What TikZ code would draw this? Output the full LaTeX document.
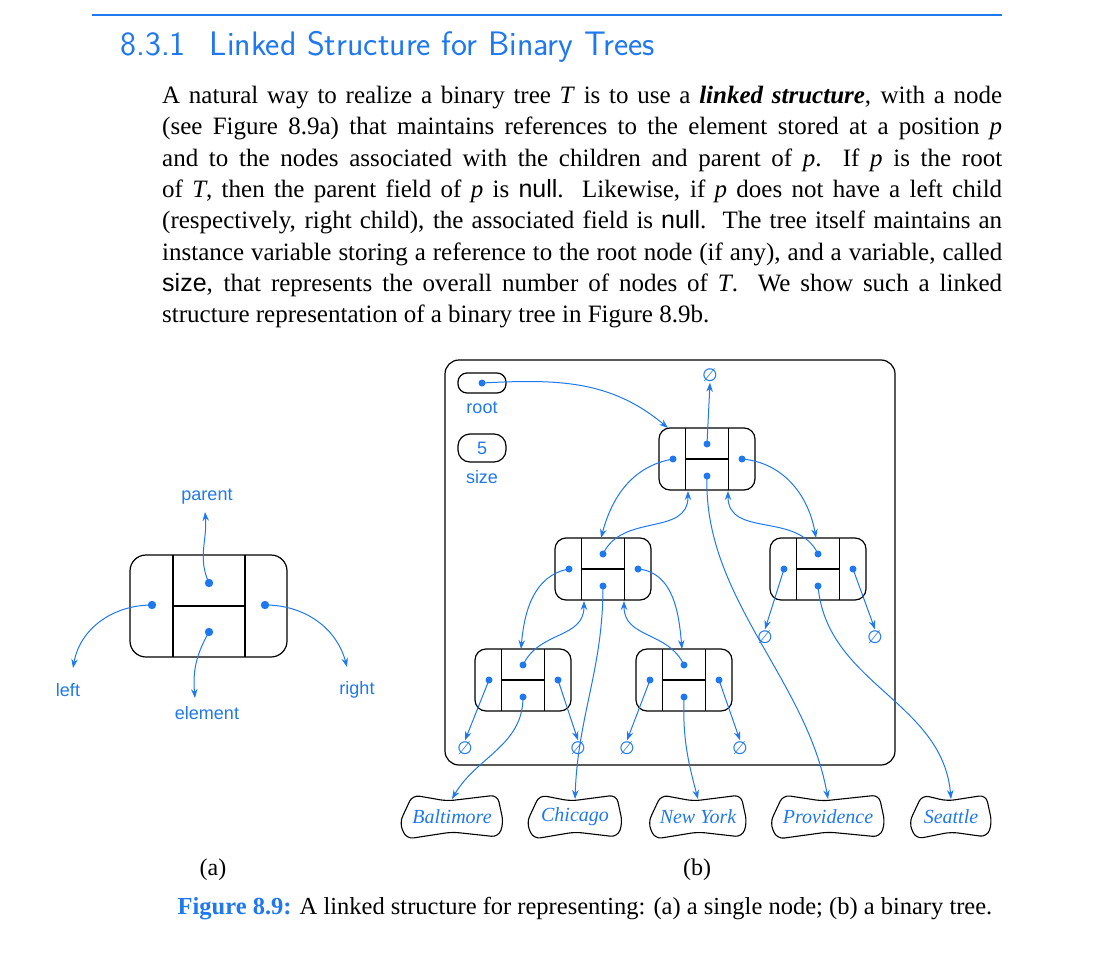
\documentclass[tikz,border=0pt]{standalone}
\usepackage{fontspec}
\setmainfont{Liberation Serif}
\newfontfamily\lsans{Liberation Sans}
\newfontfamily\djv{DejaVu Sans}
\usetikzlibrary{arrows.meta}
\definecolor{lb}{RGB}{30,120,240}
\tikzset{
 x=1pt,y=1pt,
 arr/.style={draw=lb,line width=1pt,-{Stealth[length=9pt,width=6.5pt]}},
 lbl/.style={text=lb,font=\lsans\fontsize{18}{20}\selectfont,inner sep=0pt},
 nul/.style={text=lb,font=\djv\fontsize{18}{20}\selectfont,inner sep=1pt},
 btxt/.style={text=lb,font=\itshape\fontsize{20}{22}\selectfont,inner sep=0pt},
 box/.style={draw,line width=1.2pt},
}
\newcommand\tnode[3]{% name, x, y
 \begin{scope}[shift={(#2,#3)}]
 \draw[box,rounded corners=11] (-48,-31) rectangle (48,31);
 \draw[box] (-21.5,-31) -- (-21.5,31) (21.5,-31) -- (21.5,31) (-21.5,0) -- (21.5,0);
 \coordinate (#1) at (0,0);
 \coordinate (#1-l) at (-34,0); \coordinate (#1-r) at (35,0);
 \coordinate (#1-t) at (0,15); \coordinate (#1-b) at (0,-17);
 \coordinate (#1-n) at (-2,31); \coordinate (#1-bl) at (-19,-32); \coordinate (#1-br) at (21,-32);
 \coordinate (#1-tl) at (-39,31);
 \foreach \p in {l,r,t,b} \fill[lb] (#1-\p) circle (3.5);
 \end{scope}}
\newcommand\blob[5]{% name,x,y,w,text
 \node[btxt] (#1) at (#2,#3) {#5};
 \begin{scope}[shift={(#2,#3)}]
 \draw[line width=1.1pt,rounded corners=7] ({-#4/2+10},22) -- ({-0.05*#4},16) -- ({#4/2-4},22) -- ({#4/2+2},-6) -- ({#4/2-3},-20) -- (0,-15) -- ({-#4/2+4},-22) -- ({-#4/2-3},-6) -- cycle;
 \coordinate (#1-t) at (0,18);
 \end{scope}}
\begin{document}
\begin{tikzpicture}
\useasboundingbox (0,0) rectangle (1099,-976);
% header
\draw[lb,line width=2.5pt] (92,-15) -- (1002,-15);
\node[anchor=base west,text=lb,font=\sffamily\fontsize{34}{36}\selectfont,inner sep=0pt] (hd) at (120,-56) {8.3.1\hspace{24pt}Linked Structure for Binary Trees};
\node[anchor=north west,inner sep=0pt,text width=840pt,align=justify,font=\fontsize{25}{31.3}\selectfont] (par) at (162,-86) {A natural way to realize a binary tree \textit{T} is to use a \textbf{\textit{linked structure}}, with a node\linebreak
(see Figure 8.9a) that maintains references to the element stored at a position \textit{p}\linebreak
and to the nodes associated with the children and parent of \textit{p}.\ \ If \textit{p} is the root\linebreak
of \textit{T}, then the parent field of \textit{p} is {\lsans null}.\ \ Likewise, if \textit{p} does not have a left child\linebreak
(respectively, right child), the associated field is {\lsans null}.\ \ The tree itself maintains an\linebreak
instance variable storing a reference to the root node (if any), and a variable, called\linebreak
{\lsans size}, that represents the overall number of nodes of \textit{T}.\ \ We show such a linked\linebreak
structure representation of a binary tree in Figure 8.9b.};
% (a)
\begin{scope}[shift={(208,-606)}]
\draw[box,rounded corners=16] (-78,-51) rectangle (79,51);
\draw[box] (-35,-51) -- (-35,51) (37,-51) -- (37,51) (-35,0) -- (37,0);
\coordinate (al) at (-56,1); \coordinate (ar) at (57,1);
\coordinate (at) at (1,23); \coordinate (ab) at (1,-26);
\foreach \p in {al,ar,at,ab} \fill[lb] (\p) circle (4.2);
\end{scope}
\node[lbl] (lleft) at (68,-690) {left};
\node[lbl] (lpar) at (207,-497) {parent};
\node[lbl] (lel) at (207,-713) {element};
\node[lbl] (lright) at (357,-690) {right};
\draw[arr] (al) to[out=180,in=80] (73,-668);
\draw[arr] (at) to[out=115,in=-85] (205,-512);
\draw[arr] (ab) to[out=-120,in=95] (195,-698);
\draw[arr] (ar) to[out=0,in=105] (347,-667);
\node[font=\fontsize{24}{26}\selectfont,inner sep=0pt] (capa) at (213,-870) {(a)};
% (b)
\draw[box,rounded corners=14] (445,-360) rectangle (895,-765);
\draw[line width=1.2pt,rounded corners=9] (458,-373) rectangle (506,-393);
\fill[lb] (482,-383) circle (3.5) coordinate (rootd);
\node[lbl] (rootl) at (482,-408) {root};
\node[draw,line width=1.2pt,rounded corners=12,minimum width=48pt,minimum height=28pt,text=lb,font=\lsans\fontsize{18}{20}\selectfont,inner sep=0pt] (sz) at (482,-448) {5};
\node[lbl] (szl) at (482,-477) {size};
\tnode{A}{707}{-459}
\tnode{B}{603}{-569}
\tnode{C}{818}{-569}
\tnode{D}{523}{-680}
\tnode{E}{684}{-680}
\node[nul] (n0) at (710,-375) {∅};
\node[nul] (n1) at (765,-637) {∅};
\node[nul] (n2) at (875,-637) {∅};
\node[nul] (n3) at (465,-748) {∅};
\node[nul] (n4) at (578,-748) {∅};
\node[nul] (n5) at (627,-748) {∅};
\node[nul] (n6) at (740,-748) {∅};
\blob{ba}{452}{-817}{99}{Baltimore}
\blob{ch}{575}{-817}{91}{Chicago}
\blob{ny}{698}{-817}{94}{New York}
\blob{pr}{828}{-817}{110}{Providence}
\blob{se}{951}{-817}{78}{Seattle}
\draw[arr] (rootd) to[out=3,in=140] (A-tl);
\draw[arr] (A-t) -- (n0.south);
\draw[arr] (A-l) to[out=190,in=75] (B-n);
\draw[arr] (B-t) to[out=65,in=-90,looseness=1.1] (A-bl);
\draw[arr] (A-r) to[out=-5,in=100] (C-n);
\draw[arr] (C-t) to[out=115,in=-90,looseness=1.1] (A-br);
\draw[arr] (A-b) to[out=-92,in=100,looseness=0.9] (pr-t);
\draw[arr] (B-l) to[out=190,in=85] (D-n);
\draw[arr] (D-t) to[out=65,in=-90,looseness=1.1] (B-bl);
\draw[arr] (B-r) to[out=-5,in=95] (E-n);
\draw[arr] (E-t) to[out=115,in=-90,looseness=1.1] (B-br);
\draw[arr] (B-b) to[out=-90,in=88] (ch-t);
\draw[arr] (C-l) -- (n1.north);
\draw[arr] (C-r) -- (n2.north);
\draw[arr] (C-b) to[out=-85,in=95] (se-t);
\draw[arr] (D-l) -- (n3.north);
\draw[arr] (D-r) -- (n4.north);
\draw[arr] (D-b) to[out=-90,in=60] (ba-t);
\draw[arr] (E-l) -- (n5.north);
\draw[arr] (E-r) -- (n6.north);
\draw[arr] (E-b) to[out=-92,in=105] (ny-t);
\node[font=\fontsize{24}{26}\selectfont,inner sep=0pt] (capb) at (697,-870) {(b)};
\node[font=\fontsize{24.5}{26}\selectfont,inner sep=0pt] (cap) at (585,-909) {\textcolor{lb}{\textbf{Figure 8.9:}} A linked structure for representing: (a) a single node; (b) a binary tree.};
\end{tikzpicture}
\end{document}
